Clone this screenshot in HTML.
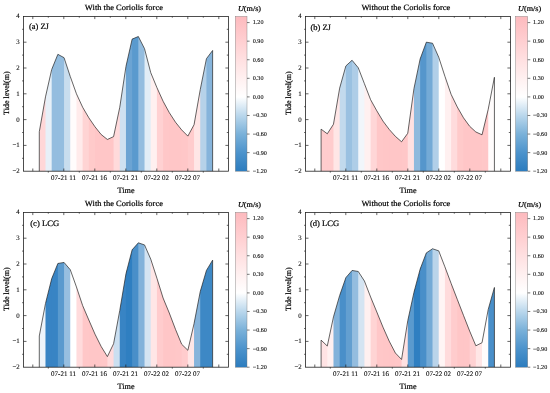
<!DOCTYPE html><html><head><meta charset="utf-8"><title>Tide level</title><style>html,body{margin:0;padding:0;background:#fff}svg{display:block}text{font-family:"Liberation Serif","DejaVu Serif",serif;fill:#000;stroke:#000;stroke-width:0.09px;text-rendering:geometricPrecision}text.b{stroke-width:0.2px}</style></head><body>
<svg width="550" height="393" viewBox="0 0 550 393">
<defs><linearGradient id="cb" x1="0" y1="1" x2="0" y2="0">
<stop offset="0.000" stop-color="#2c7cbe"/>
<stop offset="0.120" stop-color="#4c93cc"/>
<stop offset="0.240" stop-color="#7ab1d9"/>
<stop offset="0.360" stop-color="#bad7ec"/>
<stop offset="0.480" stop-color="#ffffff"/>
<stop offset="0.600" stop-color="#fff0f0"/>
<stop offset="0.720" stop-color="#ffe0e1"/>
<stop offset="0.840" stop-color="#ffcfd1"/>
<stop offset="1.000" stop-color="#fdbabe"/>
</linearGradient></defs>
<rect width="550" height="393" fill="#fff"/>
<g id="panel-a">
<clipPath id="clipa"><polygon points="39.3,171.2 39.3,131.73 45.49,96.9 51.68,69.55 57.87,54.33 64.06,57.68 70.25,76.51 76.44,93.8 82.63,107.22 88.82,117.79 95.01,126.82 101.2,134.56 107.39,139.47 113.58,136.63 119.77,107.22 125.96,66.45 132.15,39.1 138.34,36.52 144.53,48.65 150.72,72.64 156.91,87.61 163.1,101.28 169.29,112.63 175.48,122.18 181.67,129.92 187.86,136.11 194.05,124.76 200.24,89.67 206.43,58.71 212.62,50.46 212.62,171.2"/></clipPath>
<g clip-path="url(#clipa)">
<rect x="39.3" y="16.4" width="6.99" height="154.8" fill="#ffd7d8"/>
<rect x="45.49" y="16.4" width="6.99" height="154.8" fill="#e7f0f8"/>
<rect x="51.68" y="16.4" width="6.99" height="154.8" fill="#94bddf"/>
<rect x="57.87" y="16.4" width="6.99" height="154.8" fill="#94bddf"/>
<rect x="64.06" y="16.4" width="6.99" height="154.8" fill="#c8ddee"/>
<rect x="70.25" y="16.4" width="6.99" height="154.8" fill="#fffcfc"/>
<rect x="76.44" y="16.4" width="6.99" height="154.8" fill="#ffebeb"/>
<rect x="82.63" y="16.4" width="6.99" height="154.8" fill="#ffd4d4"/>
<rect x="88.82" y="16.4" width="6.99" height="154.8" fill="#ffcaca"/>
<rect x="95.01" y="16.4" width="6.99" height="154.8" fill="#ffc6c7"/>
<rect x="101.2" y="16.4" width="6.99" height="154.8" fill="#ffc6c7"/>
<rect x="107.39" y="16.4" width="6.99" height="154.8" fill="#ffc6c7"/>
<rect x="113.58" y="16.4" width="6.99" height="154.8" fill="#ffdadb"/>
<rect x="119.77" y="16.4" width="6.99" height="154.8" fill="#cee1f1"/>
<rect x="125.96" y="16.4" width="6.99" height="154.8" fill="#6ca4d3"/>
<rect x="132.15" y="16.4" width="6.99" height="154.8" fill="#5a9ace"/>
<rect x="138.34" y="16.4" width="6.99" height="154.8" fill="#94bddf"/>
<rect x="144.53" y="16.4" width="6.99" height="154.8" fill="#e2edf6"/>
<rect x="150.72" y="16.4" width="6.99" height="154.8" fill="#fff0f0"/>
<rect x="156.91" y="16.4" width="6.99" height="154.8" fill="#ffd1d2"/>
<rect x="163.1" y="16.4" width="6.99" height="154.8" fill="#ffc7c8"/>
<rect x="169.29" y="16.4" width="6.99" height="154.8" fill="#ffc6c7"/>
<rect x="175.48" y="16.4" width="6.99" height="154.8" fill="#ffc6c7"/>
<rect x="181.67" y="16.4" width="6.99" height="154.8" fill="#ffc7c8"/>
<rect x="187.86" y="16.4" width="6.99" height="154.8" fill="#ffcccd"/>
<rect x="194.05" y="16.4" width="6.99" height="154.8" fill="#ffe6e6"/>
<rect x="200.24" y="16.4" width="6.99" height="154.8" fill="#b6d2e9"/>
<rect x="206.43" y="16.4" width="6.99" height="154.8" fill="#86b4db"/>
</g>
<polyline points="39.3,171.2 39.3,131.73 45.49,96.9 51.68,69.55 57.87,54.33 64.06,57.68 70.25,76.51 76.44,93.8 82.63,107.22 88.82,117.79 95.01,126.82 101.2,134.56 107.39,139.47 113.58,136.63 119.77,107.22 125.96,66.45 132.15,39.1 138.34,36.52 144.53,48.65 150.72,72.64 156.91,87.61 163.1,101.28 169.29,112.63 175.48,122.18 181.67,129.92 187.86,136.11 194.05,124.76 200.24,89.67 206.43,58.71 212.62,50.46 212.62,171.2" fill="none" stroke="#222" stroke-width="0.7" stroke-linejoin="round"/>
<rect x="23.5" y="16.4" width="204.9" height="154.8" fill="none" stroke="#222" stroke-width="0.8"/>
<path d="M32.8,171.2v-2.7M32.8,16.4v2.7M48.3,171.2v1.4M48.3,16.4v1.3M63.8,171.2v-2.7M63.8,16.4v2.7M79.3,171.2v1.4M79.3,16.4v1.3M94.8,171.2v-2.7M94.8,16.4v2.7M110.3,171.2v1.4M110.3,16.4v1.3M125.8,171.2v-2.7M125.8,16.4v2.7M141.3,171.2v1.4M141.3,16.4v1.3M156.8,171.2v-2.7M156.8,16.4v2.7M172.3,171.2v1.4M172.3,16.4v1.3M187.8,171.2v-2.7M187.8,16.4v2.7M203.3,171.2v1.4M203.3,16.4v1.3M218.8,171.2v-2.7M218.8,16.4v2.7M23.5,29.3h-1.4M228.4,29.3h-1.6M23.5,42.2h3M228.4,42.2h-3M23.5,55.1h-1.4M228.4,55.1h-1.6M23.5,68h3M228.4,68h-3M23.5,80.9h-1.4M228.4,80.9h-1.6M23.5,93.8h3M228.4,93.8h-3M23.5,106.7h-1.4M228.4,106.7h-1.6M23.5,119.6h3M228.4,119.6h-3M23.5,132.5h-1.4M228.4,132.5h-1.6M23.5,145.4h3M228.4,145.4h-3M23.5,158.3h-1.4M228.4,158.3h-1.6" stroke="#222" stroke-width="0.7" fill="none"/>
<text x="19.7" y="18.4" font-size="6.8" text-anchor="end">4</text>
<text x="19.7" y="44.2" font-size="6.8" text-anchor="end">3</text>
<text x="19.7" y="70" font-size="6.8" text-anchor="end">2</text>
<text x="19.7" y="95.8" font-size="6.8" text-anchor="end">1</text>
<text x="19.7" y="121.6" font-size="6.8" text-anchor="end">0</text>
<text x="19.7" y="147.4" font-size="6.8" text-anchor="end">−1</text>
<text x="19.7" y="173.2" font-size="6.8" text-anchor="end">−2</text>
<text x="63.5" y="180" font-size="7" text-anchor="middle">07-21 11</text>
<text x="94.5" y="180" font-size="7" text-anchor="middle">07-21 16</text>
<text x="125.5" y="180" font-size="7" text-anchor="middle">07-21 21</text>
<text x="156.5" y="180" font-size="7" text-anchor="middle">07-22 02</text>
<text x="187.5" y="180" font-size="7" text-anchor="middle">07-22 07</text>
<text x="126.1" y="192.5" font-size="8.2" text-anchor="middle" class="b">Time</text>
<text transform="translate(8.6,93.2) rotate(-90)" font-size="8" text-anchor="middle" class="b">Tide level(m)</text>
<g transform="translate(123.9,10) scale(1.06,1)"><text x="0" y="0" font-size="8" text-anchor="middle" class="b">With the Coriolis force</text></g>
<text x="28.9" y="28.9" font-size="8.2" class="b" textLength="20" lengthAdjust="spacingAndGlyphs">(a) ZJ</text>
<rect x="235.3" y="16.4" width="11.7" height="154.8" fill="url(#cb)" stroke="#777" stroke-width="0.4"/>
<text x="252.8" y="173.1" font-size="6.1">−1.20</text>
<text x="252.8" y="154.52" font-size="6.1">−0.90</text>
<text x="252.8" y="135.95" font-size="6.1">−0.60</text>
<text x="252.8" y="117.37" font-size="6.1">−0.30</text>
<text x="252.8" y="98.8" font-size="6.1">0.00</text>
<text x="252.8" y="80.22" font-size="6.1">0.30</text>
<text x="252.8" y="61.64" font-size="6.1">0.60</text>
<text x="252.8" y="43.07" font-size="6.1">0.90</text>
<text x="252.8" y="24.49" font-size="6.1">1.20</text>
<path d="M247,171.2h2.6M247,152.62h2.6M247,134.05h2.6M247,115.47h2.6M247,96.9h2.6M247,78.32h2.6M247,59.74h2.6M247,41.17h2.6M247,22.59h2.6" stroke="#222" stroke-width="0.6" fill="none"/>
<g transform="translate(237.9,10.5) scale(1.09,1)"><text x="0" y="0" font-size="7.5" class="b"><tspan font-style="italic">U</tspan>(m/s)</text></g>
</g>
<g id="panel-b">
<clipPath id="clipb"><polygon points="321.1,171.2 321.1,129.15 327.29,133.79 333.48,124.24 339.67,88.12 345.86,65.94 352.05,60.26 358.24,67.74 364.43,83.74 370.62,99.73 376.81,110.83 383,121.15 389.19,129.4 395.38,136.37 401.57,141.79 407.76,133.27 413.95,88.64 420.14,58.97 426.33,42.2 432.52,43.23 438.71,57.16 444.9,76.26 451.09,94.32 457.28,106.96 463.47,117.79 469.66,126.31 475.85,131.98 482.04,134.82 488.23,109.28 494.42,77.29 494.42,171.2"/></clipPath>
<g clip-path="url(#clipb)">
<rect x="321.1" y="16.4" width="6.99" height="154.8" fill="#ffcccd"/>
<rect x="327.29" y="16.4" width="6.99" height="154.8" fill="#ffcccd"/>
<rect x="333.48" y="16.4" width="6.99" height="154.8" fill="#ffe6e6"/>
<rect x="339.67" y="16.4" width="6.99" height="154.8" fill="#c2daed"/>
<rect x="345.86" y="16.4" width="6.99" height="154.8" fill="#9ac1e1"/>
<rect x="352.05" y="16.4" width="6.99" height="154.8" fill="#aecde7"/>
<rect x="358.24" y="16.4" width="6.99" height="154.8" fill="#f1f6fb"/>
<rect x="364.43" y="16.4" width="6.99" height="154.8" fill="#fff0f0"/>
<rect x="370.62" y="16.4" width="6.99" height="154.8" fill="#ffd6d7"/>
<rect x="376.81" y="16.4" width="6.99" height="154.8" fill="#ffc7c8"/>
<rect x="383" y="16.4" width="6.99" height="154.8" fill="#ffc6c7"/>
<rect x="389.19" y="16.4" width="6.99" height="154.8" fill="#ffc6c7"/>
<rect x="395.38" y="16.4" width="6.99" height="154.8" fill="#ffc6c7"/>
<rect x="401.57" y="16.4" width="6.99" height="154.8" fill="#ffc7c8"/>
<rect x="407.76" y="16.4" width="6.99" height="154.8" fill="#ffe1e1"/>
<rect x="413.95" y="16.4" width="6.99" height="154.8" fill="#8ebadd"/>
<rect x="420.14" y="16.4" width="6.99" height="154.8" fill="#5596cc"/>
<rect x="426.33" y="16.4" width="6.99" height="154.8" fill="#74aad6"/>
<rect x="432.52" y="16.4" width="6.99" height="154.8" fill="#b1cfe8"/>
<rect x="438.71" y="16.4" width="6.99" height="154.8" fill="#ffffff"/>
<rect x="444.9" y="16.4" width="6.99" height="154.8" fill="#fff0f0"/>
<rect x="451.09" y="16.4" width="6.99" height="154.8" fill="#ffdbdc"/>
<rect x="457.28" y="16.4" width="6.99" height="154.8" fill="#ffcaca"/>
<rect x="463.47" y="16.4" width="6.99" height="154.8" fill="#ffc6c7"/>
<rect x="469.66" y="16.4" width="6.99" height="154.8" fill="#ffc6c7"/>
<rect x="475.85" y="16.4" width="6.99" height="154.8" fill="#ffc6c7"/>
<rect x="482.04" y="16.4" width="6.99" height="154.8" fill="#ffc7c8"/>
<rect x="488.23" y="16.4" width="6.99" height="154.8" fill="#fffcfc"/>
</g>
<polyline points="321.1,171.2 321.1,129.15 327.29,133.79 333.48,124.24 339.67,88.12 345.86,65.94 352.05,60.26 358.24,67.74 364.43,83.74 370.62,99.73 376.81,110.83 383,121.15 389.19,129.4 395.38,136.37 401.57,141.79 407.76,133.27 413.95,88.64 420.14,58.97 426.33,42.2 432.52,43.23 438.71,57.16 444.9,76.26 451.09,94.32 457.28,106.96 463.47,117.79 469.66,126.31 475.85,131.98 482.04,134.82 488.23,109.28 494.42,77.29 494.42,171.2" fill="none" stroke="#222" stroke-width="0.7" stroke-linejoin="round"/>
<rect x="305.5" y="16.4" width="204.9" height="154.8" fill="none" stroke="#222" stroke-width="0.8"/>
<path d="M314.8,171.2v-2.7M314.8,16.4v2.7M330.3,171.2v1.4M330.3,16.4v1.3M345.8,171.2v-2.7M345.8,16.4v2.7M361.3,171.2v1.4M361.3,16.4v1.3M376.8,171.2v-2.7M376.8,16.4v2.7M392.3,171.2v1.4M392.3,16.4v1.3M407.8,171.2v-2.7M407.8,16.4v2.7M423.3,171.2v1.4M423.3,16.4v1.3M438.8,171.2v-2.7M438.8,16.4v2.7M454.3,171.2v1.4M454.3,16.4v1.3M469.8,171.2v-2.7M469.8,16.4v2.7M485.3,171.2v1.4M485.3,16.4v1.3M500.8,171.2v-2.7M500.8,16.4v2.7M305.5,29.3h-1.4M510.4,29.3h-1.6M305.5,42.2h3M510.4,42.2h-3M305.5,55.1h-1.4M510.4,55.1h-1.6M305.5,68h3M510.4,68h-3M305.5,80.9h-1.4M510.4,80.9h-1.6M305.5,93.8h3M510.4,93.8h-3M305.5,106.7h-1.4M510.4,106.7h-1.6M305.5,119.6h3M510.4,119.6h-3M305.5,132.5h-1.4M510.4,132.5h-1.6M305.5,145.4h3M510.4,145.4h-3M305.5,158.3h-1.4M510.4,158.3h-1.6" stroke="#222" stroke-width="0.7" fill="none"/>
<text x="301.7" y="18.4" font-size="6.8" text-anchor="end">4</text>
<text x="301.7" y="44.2" font-size="6.8" text-anchor="end">3</text>
<text x="301.7" y="70" font-size="6.8" text-anchor="end">2</text>
<text x="301.7" y="95.8" font-size="6.8" text-anchor="end">1</text>
<text x="301.7" y="121.6" font-size="6.8" text-anchor="end">0</text>
<text x="301.7" y="147.4" font-size="6.8" text-anchor="end">−1</text>
<text x="301.7" y="173.2" font-size="6.8" text-anchor="end">−2</text>
<text x="345.5" y="180" font-size="7" text-anchor="middle">07-21 11</text>
<text x="376.5" y="180" font-size="7" text-anchor="middle">07-21 16</text>
<text x="407.5" y="180" font-size="7" text-anchor="middle">07-21 21</text>
<text x="438.5" y="180" font-size="7" text-anchor="middle">07-22 02</text>
<text x="469.5" y="180" font-size="7" text-anchor="middle">07-22 07</text>
<text x="408.1" y="192.5" font-size="8.2" text-anchor="middle" class="b">Time</text>
<text transform="translate(290.6,93.2) rotate(-90)" font-size="8" text-anchor="middle" class="b">Tide level(m)</text>
<g transform="translate(405.9,10) scale(1.06,1)"><text x="0" y="0" font-size="8" text-anchor="middle" class="b">Without the Coriolis force</text></g>
<text x="310.5" y="29.5" font-size="8.2" class="b" textLength="20.4" lengthAdjust="spacingAndGlyphs">(b) ZJ</text>
<rect x="515.5" y="16.4" width="12.2" height="154.8" fill="url(#cb)" stroke="#777" stroke-width="0.4"/>
<text x="533.1" y="173.1" font-size="6.1">−1.20</text>
<text x="533.1" y="154.52" font-size="6.1">−0.90</text>
<text x="533.1" y="135.95" font-size="6.1">−0.60</text>
<text x="533.1" y="117.37" font-size="6.1">−0.30</text>
<text x="533.1" y="98.8" font-size="6.1">0.00</text>
<text x="533.1" y="80.22" font-size="6.1">0.30</text>
<text x="533.1" y="61.64" font-size="6.1">0.60</text>
<text x="533.1" y="43.07" font-size="6.1">0.90</text>
<text x="533.1" y="24.49" font-size="6.1">1.20</text>
<path d="M527.7,171.2h2.6M527.7,152.62h2.6M527.7,134.05h2.6M527.7,115.47h2.6M527.7,96.9h2.6M527.7,78.32h2.6M527.7,59.74h2.6M527.7,41.17h2.6M527.7,22.59h2.6" stroke="#222" stroke-width="0.6" fill="none"/>
<g transform="translate(518.1,10.5) scale(1.09,1)"><text x="0" y="0" font-size="7.5" class="b"><tspan font-style="italic">U</tspan>(m/s)</text></g>
</g>
<g id="panel-c">
<clipPath id="clipc"><polygon points="39.3,367.2 39.3,335.98 45.49,303.47 51.68,278.71 57.87,263.48 64.06,262.45 70.25,269.68 76.44,286.96 82.63,305.54 88.82,319.99 95.01,334.18 101.2,346.56 107.39,356.62 113.58,343.72 119.77,310.44 125.96,273.8 132.15,249.81 138.34,242.84 144.53,244.91 150.72,259.1 156.91,278.19 163.1,298.06 169.29,313.02 175.48,329.27 181.67,344.24 187.86,350.3 194.05,323.6 200.24,291.61 206.43,270.45 212.62,260.13 212.62,367.2"/></clipPath>
<g clip-path="url(#clipc)">
<rect x="39.3" y="212.4" width="6.99" height="154.8" fill="#eef4fa"/>
<rect x="45.49" y="212.4" width="6.99" height="154.8" fill="#3884c4"/>
<rect x="51.68" y="212.4" width="6.99" height="154.8" fill="#3884c4"/>
<rect x="57.87" y="212.4" width="6.99" height="154.8" fill="#5a9ace"/>
<rect x="64.06" y="212.4" width="6.99" height="154.8" fill="#97bfe0"/>
<rect x="70.25" y="212.4" width="6.99" height="154.8" fill="#ffffff"/>
<rect x="76.44" y="212.4" width="6.99" height="154.8" fill="#ffdbdc"/>
<rect x="82.63" y="212.4" width="6.99" height="154.8" fill="#ffc7c8"/>
<rect x="88.82" y="212.4" width="6.99" height="154.8" fill="#ffc6c7"/>
<rect x="95.01" y="212.4" width="6.99" height="154.8" fill="#ffc6c7"/>
<rect x="101.2" y="212.4" width="6.99" height="154.8" fill="#ffc7c8"/>
<rect x="107.39" y="212.4" width="6.99" height="154.8" fill="#ffdbdc"/>
<rect x="113.58" y="212.4" width="6.99" height="154.8" fill="#cbdff0"/>
<rect x="119.77" y="212.4" width="6.99" height="154.8" fill="#3884c4"/>
<rect x="125.96" y="212.4" width="6.99" height="154.8" fill="#2f7fc1"/>
<rect x="132.15" y="212.4" width="6.99" height="154.8" fill="#498fc9"/>
<rect x="138.34" y="212.4" width="6.99" height="154.8" fill="#82b2da"/>
<rect x="144.53" y="212.4" width="6.99" height="154.8" fill="#d4e4f2"/>
<rect x="150.72" y="212.4" width="6.99" height="154.8" fill="#ffe6e6"/>
<rect x="156.91" y="212.4" width="6.99" height="154.8" fill="#ffcccd"/>
<rect x="163.1" y="212.4" width="6.99" height="154.8" fill="#ffc6c7"/>
<rect x="169.29" y="212.4" width="6.99" height="154.8" fill="#ffc6c7"/>
<rect x="175.48" y="212.4" width="6.99" height="154.8" fill="#ffc7c8"/>
<rect x="181.67" y="212.4" width="6.99" height="154.8" fill="#ffcccd"/>
<rect x="187.86" y="212.4" width="6.99" height="154.8" fill="#ffe6e6"/>
<rect x="194.05" y="212.4" width="6.99" height="154.8" fill="#86b4db"/>
<rect x="200.24" y="212.4" width="6.99" height="154.8" fill="#3d88c5"/>
<rect x="206.43" y="212.4" width="6.99" height="154.8" fill="#3d88c5"/>
</g>
<polyline points="39.3,367.2 39.3,335.98 45.49,303.47 51.68,278.71 57.87,263.48 64.06,262.45 70.25,269.68 76.44,286.96 82.63,305.54 88.82,319.99 95.01,334.18 101.2,346.56 107.39,356.62 113.58,343.72 119.77,310.44 125.96,273.8 132.15,249.81 138.34,242.84 144.53,244.91 150.72,259.1 156.91,278.19 163.1,298.06 169.29,313.02 175.48,329.27 181.67,344.24 187.86,350.3 194.05,323.6 200.24,291.61 206.43,270.45 212.62,260.13 212.62,367.2" fill="none" stroke="#222" stroke-width="0.7" stroke-linejoin="round"/>
<rect x="23.5" y="212.4" width="204.9" height="154.8" fill="none" stroke="#222" stroke-width="0.8"/>
<path d="M32.8,367.2v-2.7M32.8,212.4v2.7M48.3,367.2v1.4M48.3,212.4v1.3M63.8,367.2v-2.7M63.8,212.4v2.7M79.3,367.2v1.4M79.3,212.4v1.3M94.8,367.2v-2.7M94.8,212.4v2.7M110.3,367.2v1.4M110.3,212.4v1.3M125.8,367.2v-2.7M125.8,212.4v2.7M141.3,367.2v1.4M141.3,212.4v1.3M156.8,367.2v-2.7M156.8,212.4v2.7M172.3,367.2v1.4M172.3,212.4v1.3M187.8,367.2v-2.7M187.8,212.4v2.7M203.3,367.2v1.4M203.3,212.4v1.3M218.8,367.2v-2.7M218.8,212.4v2.7M23.5,225.3h-1.4M228.4,225.3h-1.6M23.5,238.2h3M228.4,238.2h-3M23.5,251.1h-1.4M228.4,251.1h-1.6M23.5,264h3M228.4,264h-3M23.5,276.9h-1.4M228.4,276.9h-1.6M23.5,289.8h3M228.4,289.8h-3M23.5,302.7h-1.4M228.4,302.7h-1.6M23.5,315.6h3M228.4,315.6h-3M23.5,328.5h-1.4M228.4,328.5h-1.6M23.5,341.4h3M228.4,341.4h-3M23.5,354.3h-1.4M228.4,354.3h-1.6" stroke="#222" stroke-width="0.7" fill="none"/>
<text x="19.7" y="214.4" font-size="6.8" text-anchor="end">4</text>
<text x="19.7" y="240.2" font-size="6.8" text-anchor="end">3</text>
<text x="19.7" y="266" font-size="6.8" text-anchor="end">2</text>
<text x="19.7" y="291.8" font-size="6.8" text-anchor="end">1</text>
<text x="19.7" y="317.6" font-size="6.8" text-anchor="end">0</text>
<text x="19.7" y="343.4" font-size="6.8" text-anchor="end">−1</text>
<text x="19.7" y="369.2" font-size="6.8" text-anchor="end">−2</text>
<text x="63.5" y="376" font-size="7" text-anchor="middle">07-21 11</text>
<text x="94.5" y="376" font-size="7" text-anchor="middle">07-21 16</text>
<text x="125.5" y="376" font-size="7" text-anchor="middle">07-21 21</text>
<text x="156.5" y="376" font-size="7" text-anchor="middle">07-22 02</text>
<text x="187.5" y="376" font-size="7" text-anchor="middle">07-22 07</text>
<text x="126.1" y="388.5" font-size="8.2" text-anchor="middle" class="b">Time</text>
<text transform="translate(8.6,289.2) rotate(-90)" font-size="8" text-anchor="middle" class="b">Tide level(m)</text>
<g transform="translate(123.9,206) scale(1.06,1)"><text x="0" y="0" font-size="8" text-anchor="middle" class="b">With the Coriolis force</text></g>
<text x="30.2" y="226.4" font-size="8.2" class="b" textLength="29" lengthAdjust="spacingAndGlyphs">(c) LCG</text>
<rect x="235.3" y="212.4" width="11.7" height="154.8" fill="url(#cb)" stroke="#777" stroke-width="0.4"/>
<text x="252.8" y="369.1" font-size="6.1">−1.20</text>
<text x="252.8" y="350.52" font-size="6.1">−0.90</text>
<text x="252.8" y="331.95" font-size="6.1">−0.60</text>
<text x="252.8" y="313.37" font-size="6.1">−0.30</text>
<text x="252.8" y="294.8" font-size="6.1">0.00</text>
<text x="252.8" y="276.22" font-size="6.1">0.30</text>
<text x="252.8" y="257.64" font-size="6.1">0.60</text>
<text x="252.8" y="239.07" font-size="6.1">0.90</text>
<text x="252.8" y="220.49" font-size="6.1">1.20</text>
<path d="M247,367.2h2.6M247,348.62h2.6M247,330.05h2.6M247,311.47h2.6M247,292.9h2.6M247,274.32h2.6M247,255.74h2.6M247,237.17h2.6M247,218.59h2.6" stroke="#222" stroke-width="0.6" fill="none"/>
<g transform="translate(237.9,206.5) scale(1.09,1)"><text x="0" y="0" font-size="7.5" class="b"><tspan font-style="italic">U</tspan>(m/s)</text></g>
</g>
<g id="panel-d">
<clipPath id="clipd"><polygon points="321.1,367.2 321.1,340.11 327.29,346.04 333.48,316.89 339.67,295.48 345.86,277.67 352.05,270.45 358.24,271.48 364.43,281.03 370.62,297.02 376.81,311.99 383,327.21 389.19,341.14 395.38,353.01 401.57,359.46 407.76,320.76 413.95,292.38 420.14,269.16 426.33,252.91 432.52,248.78 438.71,250.84 444.9,266.84 451.09,283.35 457.28,299.35 463.47,315.34 469.66,331.08 475.85,345.79 482.04,342.69 488.23,309.41 494.42,287.48 494.42,367.2"/></clipPath>
<g clip-path="url(#clipd)">
<rect x="321.1" y="212.4" width="6.99" height="154.8" fill="#ffe3e4"/>
<rect x="327.29" y="212.4" width="6.99" height="154.8" fill="#fff0f0"/>
<rect x="333.48" y="212.4" width="6.99" height="154.8" fill="#82b2da"/>
<rect x="339.67" y="212.4" width="6.99" height="154.8" fill="#498fc9"/>
<rect x="345.86" y="212.4" width="6.99" height="154.8" fill="#639fd0"/>
<rect x="352.05" y="212.4" width="6.99" height="154.8" fill="#94bddf"/>
<rect x="358.24" y="212.4" width="6.99" height="154.8" fill="#d4e4f2"/>
<rect x="364.43" y="212.4" width="6.99" height="154.8" fill="#fff0f0"/>
<rect x="370.62" y="212.4" width="6.99" height="154.8" fill="#ffd4d4"/>
<rect x="376.81" y="212.4" width="6.99" height="154.8" fill="#ffc7c8"/>
<rect x="383" y="212.4" width="6.99" height="154.8" fill="#ffc6c7"/>
<rect x="389.19" y="212.4" width="6.99" height="154.8" fill="#ffc6c7"/>
<rect x="395.38" y="212.4" width="6.99" height="154.8" fill="#ffc7c8"/>
<rect x="401.57" y="212.4" width="6.99" height="154.8" fill="#ffe1e1"/>
<rect x="407.76" y="212.4" width="6.99" height="154.8" fill="#5a9ace"/>
<rect x="413.95" y="212.4" width="6.99" height="154.8" fill="#2f7fc1"/>
<rect x="420.14" y="212.4" width="6.99" height="154.8" fill="#498fc9"/>
<rect x="426.33" y="212.4" width="6.99" height="154.8" fill="#74aad6"/>
<rect x="432.52" y="212.4" width="6.99" height="154.8" fill="#bad4ea"/>
<rect x="438.71" y="212.4" width="6.99" height="154.8" fill="#fff5f5"/>
<rect x="444.9" y="212.4" width="6.99" height="154.8" fill="#ffdbdc"/>
<rect x="451.09" y="212.4" width="6.99" height="154.8" fill="#ffcccd"/>
<rect x="457.28" y="212.4" width="6.99" height="154.8" fill="#ffc6c7"/>
<rect x="463.47" y="212.4" width="6.99" height="154.8" fill="#ffc6c7"/>
<rect x="469.66" y="212.4" width="6.99" height="154.8" fill="#ffd1d2"/>
<rect x="475.85" y="212.4" width="6.99" height="154.8" fill="#ffe6e6"/>
<rect x="482.04" y="212.4" width="6.99" height="154.8" fill="#fffcfc"/>
<rect x="488.23" y="212.4" width="6.99" height="154.8" fill="#498fc9"/>
</g>
<polyline points="321.1,367.2 321.1,340.11 327.29,346.04 333.48,316.89 339.67,295.48 345.86,277.67 352.05,270.45 358.24,271.48 364.43,281.03 370.62,297.02 376.81,311.99 383,327.21 389.19,341.14 395.38,353.01 401.57,359.46 407.76,320.76 413.95,292.38 420.14,269.16 426.33,252.91 432.52,248.78 438.71,250.84 444.9,266.84 451.09,283.35 457.28,299.35 463.47,315.34 469.66,331.08 475.85,345.79 482.04,342.69 488.23,309.41 494.42,287.48 494.42,367.2" fill="none" stroke="#222" stroke-width="0.7" stroke-linejoin="round"/>
<rect x="305.5" y="212.4" width="204.9" height="154.8" fill="none" stroke="#222" stroke-width="0.8"/>
<path d="M314.8,367.2v-2.7M314.8,212.4v2.7M330.3,367.2v1.4M330.3,212.4v1.3M345.8,367.2v-2.7M345.8,212.4v2.7M361.3,367.2v1.4M361.3,212.4v1.3M376.8,367.2v-2.7M376.8,212.4v2.7M392.3,367.2v1.4M392.3,212.4v1.3M407.8,367.2v-2.7M407.8,212.4v2.7M423.3,367.2v1.4M423.3,212.4v1.3M438.8,367.2v-2.7M438.8,212.4v2.7M454.3,367.2v1.4M454.3,212.4v1.3M469.8,367.2v-2.7M469.8,212.4v2.7M485.3,367.2v1.4M485.3,212.4v1.3M500.8,367.2v-2.7M500.8,212.4v2.7M305.5,225.3h-1.4M510.4,225.3h-1.6M305.5,238.2h3M510.4,238.2h-3M305.5,251.1h-1.4M510.4,251.1h-1.6M305.5,264h3M510.4,264h-3M305.5,276.9h-1.4M510.4,276.9h-1.6M305.5,289.8h3M510.4,289.8h-3M305.5,302.7h-1.4M510.4,302.7h-1.6M305.5,315.6h3M510.4,315.6h-3M305.5,328.5h-1.4M510.4,328.5h-1.6M305.5,341.4h3M510.4,341.4h-3M305.5,354.3h-1.4M510.4,354.3h-1.6" stroke="#222" stroke-width="0.7" fill="none"/>
<text x="301.7" y="214.4" font-size="6.8" text-anchor="end">4</text>
<text x="301.7" y="240.2" font-size="6.8" text-anchor="end">3</text>
<text x="301.7" y="266" font-size="6.8" text-anchor="end">2</text>
<text x="301.7" y="291.8" font-size="6.8" text-anchor="end">1</text>
<text x="301.7" y="317.6" font-size="6.8" text-anchor="end">0</text>
<text x="301.7" y="343.4" font-size="6.8" text-anchor="end">−1</text>
<text x="301.7" y="369.2" font-size="6.8" text-anchor="end">−2</text>
<text x="345.5" y="376" font-size="7" text-anchor="middle">07-21 11</text>
<text x="376.5" y="376" font-size="7" text-anchor="middle">07-21 16</text>
<text x="407.5" y="376" font-size="7" text-anchor="middle">07-21 21</text>
<text x="438.5" y="376" font-size="7" text-anchor="middle">07-22 02</text>
<text x="469.5" y="376" font-size="7" text-anchor="middle">07-22 07</text>
<text x="408.1" y="388.5" font-size="8.2" text-anchor="middle" class="b">Time</text>
<text transform="translate(290.6,289.2) rotate(-90)" font-size="8" text-anchor="middle" class="b">Tide level(m)</text>
<g transform="translate(405.9,206) scale(1.06,1)"><text x="0" y="0" font-size="8" text-anchor="middle" class="b">Without the Coriolis force</text></g>
<text x="309.9" y="225.6" font-size="8.2" class="b" textLength="29.3" lengthAdjust="spacingAndGlyphs">(d) LCG</text>
<rect x="515.5" y="212.4" width="12.2" height="154.8" fill="url(#cb)" stroke="#777" stroke-width="0.4"/>
<text x="533.1" y="369.1" font-size="6.1">−1.20</text>
<text x="533.1" y="350.52" font-size="6.1">−0.90</text>
<text x="533.1" y="331.95" font-size="6.1">−0.60</text>
<text x="533.1" y="313.37" font-size="6.1">−0.30</text>
<text x="533.1" y="294.8" font-size="6.1">0.00</text>
<text x="533.1" y="276.22" font-size="6.1">0.30</text>
<text x="533.1" y="257.64" font-size="6.1">0.60</text>
<text x="533.1" y="239.07" font-size="6.1">0.90</text>
<text x="533.1" y="220.49" font-size="6.1">1.20</text>
<path d="M527.7,367.2h2.6M527.7,348.62h2.6M527.7,330.05h2.6M527.7,311.47h2.6M527.7,292.9h2.6M527.7,274.32h2.6M527.7,255.74h2.6M527.7,237.17h2.6M527.7,218.59h2.6" stroke="#222" stroke-width="0.6" fill="none"/>
<g transform="translate(518.1,206.5) scale(1.09,1)"><text x="0" y="0" font-size="7.5" class="b"><tspan font-style="italic">U</tspan>(m/s)</text></g>
</g>
</svg></body></html>
